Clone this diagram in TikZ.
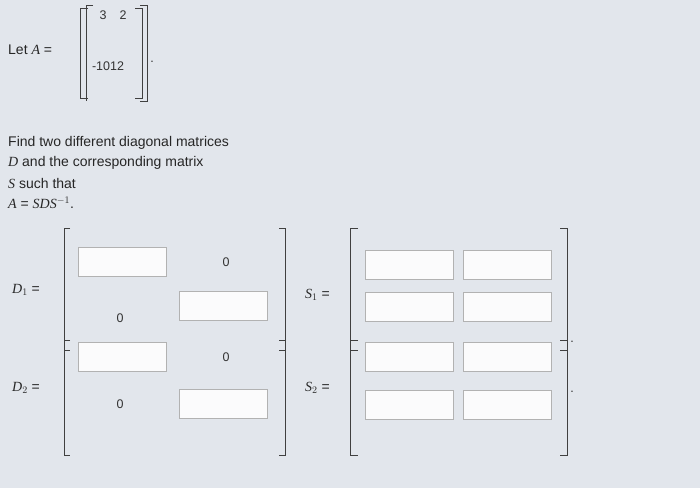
\documentclass[tikz,border=0pt]{standalone}
\usepackage{fontspec}
\setmainfont{Liberation Sans}
\newfontfamily\mathser{Liberation Serif}
\definecolor{bgc}{HTML}{E2E6EC}
\begin{document}
\begin{tikzpicture}[x=1pt,y=-1pt,
  txt/.style={anchor=west,text=black!85,font=\fontsize{14}{15}\selectfont,inner sep=0},
  ent/.style={text=black!80,font=\fontsize{12.5}{13}\selectfont,inner sep=0},
  ibox/.style={draw=black!30,fill=white!85!bgc,line width=0.8pt,minimum width=88pt,minimum height=29pt,inner sep=0},
  brk/.style={draw=black!75,line width=1pt}]
\fill[bgc] (0,0) rectangle (700,488);
\useasboundingbox (0,0) rectangle (700,488);
% matrix A
\node[txt] (la) at (8,50) {Let {\mathser\itshape A} =};
\draw[brk] (88,8) -- (80,8) -- (80,98) -- (88,98);
\draw[brk] (93,5) -- (86,5) -- (86,101);
\draw[brk] (135,8) -- (142,8) -- (142,98) -- (135,98);
\draw[brk] (140,5) -- (147,5) -- (147,101) -- (140,101);
\node[ent] (a11) at (103,15) {3};
\node[ent] (a12) at (123,15) {2};
\node[ent] (a21) at (108,66) {-1012};
\node[ent] (dA) at (152,62) {.};
% text
\node[txt] (t1) at (8,143) {Find two different diagonal matrices};
\node[txt] (t2) at (8,163) {{\mathser\itshape D} and the corresponding matrix};
\node[txt] (t3) at (8,183) {{\mathser\itshape S} such that};
\node[txt] (t4) at (8,203) {{\mathser\itshape A} = {\mathser\itshape SDS}$^{-1}$.};
% D1
\node[txt] (d1) at (12,290) {{\mathser\itshape D}$_1$ =};
\draw[brk] (70,228) -- (64,228) -- (64,350) -- (70,350);
\draw[brk] (279,228) -- (285,228) -- (285,350) -- (279,350);
\node[ibox] (d1a) at (122,262) {};
\node[ent] (d1b) at (226,262) {0};
\node[ent] (d1c) at (120,318) {0};
\node[ibox] (d1d) at (223,306) {};
% D2
\node[txt] (d2) at (12,388) {{\mathser\itshape D}$_2$ =};
\draw[brk] (70,340) -- (64,340) -- (64,455) -- (70,455);
\draw[brk] (279,340) -- (285,340) -- (285,455) -- (279,455);
\node[ibox] (d2a) at (122,357) {};
\node[ent] (d2b) at (226,357) {0};
\node[ent] (d2c) at (120,404) {0};
\node[ibox] (d2d) at (223,404) {};
% S1
\node[txt] (s1) at (305,295) {{\mathser\itshape S}$_1$ =};
\draw[brk] (358,228) -- (350,228) -- (350,350) -- (358,350);
\draw[brk] (560,228) -- (567,228) -- (567,350) -- (560,350);
\node[ibox] (s1a) at (409,265) {};
\node[ibox] (s1b) at (507,265) {};
\node[ibox] (s1c) at (409,307) {};
\node[ibox] (s1d) at (507,307) {};
\node[ent] (dS1) at (572,342) {.};
% S2
\node[txt] (s2) at (305,388) {{\mathser\itshape S}$_2$ =};
\draw[brk] (358,340) -- (350,340) -- (350,455) -- (358,455);
\draw[brk] (560,340) -- (567,340) -- (567,455) -- (560,455);
\node[ibox] (s2a) at (409,357) {};
\node[ibox] (s2b) at (507,357) {};
\node[ibox] (s2c) at (409,405) {};
\node[ibox] (s2d) at (507,405) {};
\node[ent] (dS2) at (572,392) {.};
\end{tikzpicture}
\end{document}
